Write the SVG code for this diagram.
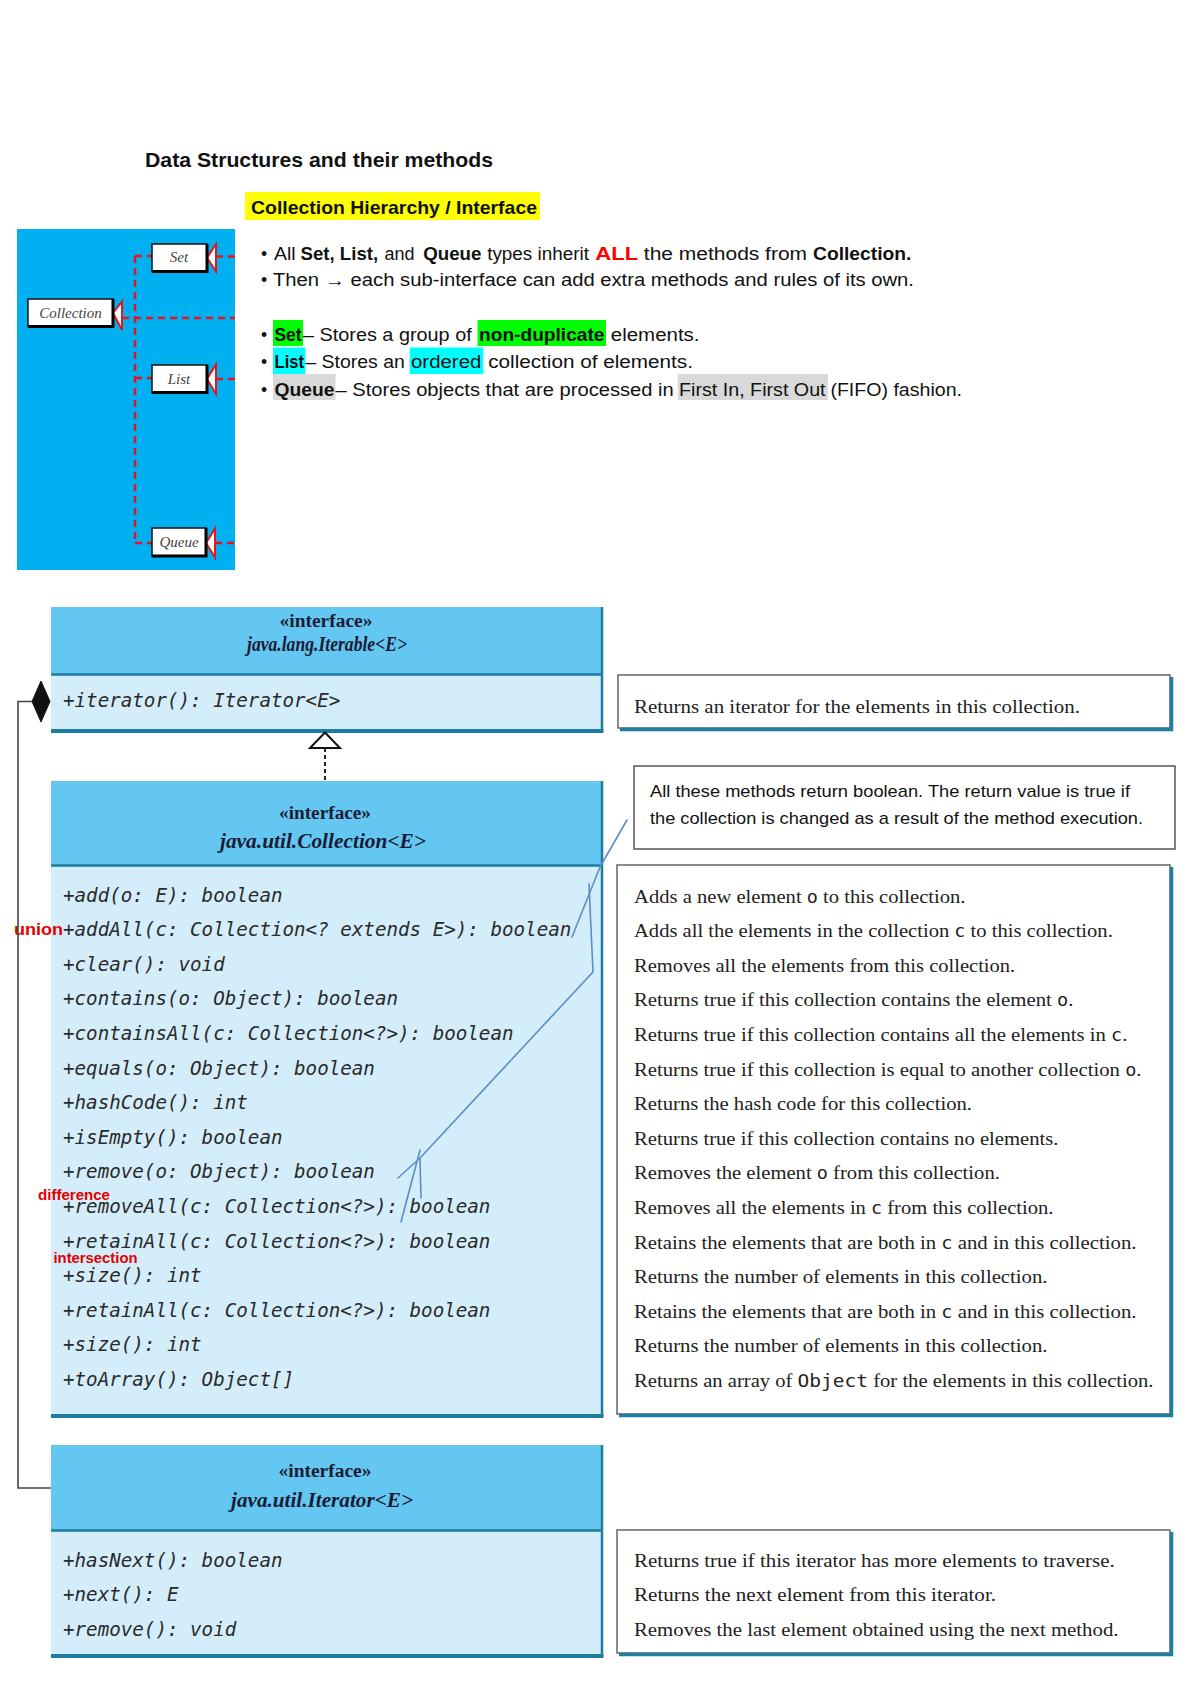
<svg xmlns="http://www.w3.org/2000/svg" width="1200" height="1696" viewBox="0 0 1200 1696">
<defs>
<style>
.cal{font-family:"Liberation Sans","Noto Sans",sans-serif;fill:#111;}
.b{font-weight:bold;}
.ser{font-family:"Liberation Serif","DejaVu Serif",serif;fill:#222;}
.mono{font-family:"DejaVu Sans Mono","Liberation Mono",monospace;font-style:italic;font-size:19.2px;fill:#2a2a2a;}
.cm{font-family:"DejaVu Sans Mono","Liberation Mono",monospace;font-style:normal;}
.hd1{font-family:"Liberation Serif",serif;font-weight:bold;font-size:18px;fill:#1b1b35;}
.hd2{font-family:"Liberation Serif",serif;font-weight:bold;font-style:italic;font-size:20px;fill:#1b1b35;}
.hdr{fill:#63C7F1;}
.body{fill:#D4EDFA;}
.edge{stroke:#1C7CA2;stroke-width:2.5;fill:none;}
.edgeb{stroke:#1C7CA2;stroke-width:4;fill:none;}
.desc{fill:#fff;stroke:#666;stroke-width:1.5;}
.dsh{stroke:#1E7FA3;stroke-width:3.5;fill:none;}
.rd{stroke:#E8141B;stroke-width:2.5;stroke-dasharray:7 5;fill:none;}
.tri{fill:#fff;stroke:#E8141B;stroke-width:2;}
.sbox{fill:#fff;stroke:#111;stroke-width:1.5;}
.sshadow{stroke:#000;stroke-width:3;fill:none;}
.stxt{font-family:"Liberation Serif",serif;font-style:italic;font-size:15px;fill:#444;text-anchor:middle;}
.red{font-family:"Liberation Sans",sans-serif;font-weight:bold;fill:#E00000;}
.ink{stroke:#5B8EC4;stroke-width:1.6;fill:none;stroke-linecap:round;stroke-linejoin:round;}
.bl{font-family:"Liberation Sans","Noto Sans",sans-serif;font-size:17.5px;fill:#111;}
.bl.redt{fill:#FF0000;}
</style>
</defs>
<rect x="0" y="0" width="1200" height="1696" fill="#fff"/>

<!-- Title -->
<g id="title">
<text class="cal b" x="145" y="167" font-size="21" textLength="348" lengthAdjust="spacingAndGlyphs">Data Structures and their methods</text>
<rect x="245" y="192" width="295" height="28" fill="#FFFF00"/>
<text class="cal b" x="251" y="213.5" font-size="19" textLength="286" lengthAdjust="spacingAndGlyphs">Collection Hierarchy / Interface</text>
</g>

<!-- Hierarchy mini diagram -->
<g id="hierarchy">
<rect x="17" y="229" width="218" height="341" fill="#00B0F0"/>
<g id="hier-connectors">
<line class="rd" x1="216" y1="256.5" x2="235" y2="256.5"/>
<line class="rd" x1="122" y1="318" x2="235" y2="318"/>
<line class="rd" x1="216" y1="379" x2="235" y2="379"/>
<line class="rd" x1="215" y1="543" x2="235" y2="543"/>
<line class="rd" x1="135" y1="256" x2="135" y2="543"/>
<line class="rd" x1="135" y1="256" x2="152" y2="256"/>
<line class="rd" x1="135" y1="378" x2="152" y2="378"/>
<line class="rd" x1="135" y1="543" x2="152" y2="543"/>
<polygon class="tri" points="207,257.7 216,244 216,271.5"/>
<polygon class="tri" points="113,313 122,301.5 122,330"/>
<polygon class="tri" points="207,379 216,364.5 216,394"/>
<polygon class="tri" points="206,543 215,528.5 215,557.5"/>
</g>
<g id="h-set">
<rect class="sbox" x="152" y="244" width="55" height="27.5"/>
<polyline class="sshadow" points="152,271.5 207,271.5 207,244"/>
<text class="stxt" x="179" y="262">Set</text>
</g>
<g id="h-collection">
<rect class="sbox" x="28" y="299" width="85" height="27.5"/>
<polyline class="sshadow" points="28,326.5 113,326.5 113,299"/>
<text class="stxt" x="70.5" y="317.5">Collection</text>
</g>
<g id="h-list">
<rect class="sbox" x="152" y="365" width="55" height="27.5"/>
<polyline class="sshadow" points="152,392.5 207,392.5 207,365"/>
<text class="stxt" x="179" y="383.5">List</text>
</g>
<g id="h-queue">
<rect class="sbox" x="152" y="528" width="54" height="28"/>
<polyline class="sshadow" points="152,556 206,556 206,528"/>
<text class="stxt" x="179" y="547">Queue</text>
</g>
</g>

<!-- Bullets -->
<g id="bullets">
<text class="bl" x="261" y="259.5">•</text>
<text class="bl" x="274" y="259.5" textLength="21.7" lengthAdjust="spacingAndGlyphs">All</text>
<text class="bl b" x="300.6" y="259.5" textLength="77.5" lengthAdjust="spacingAndGlyphs">Set, List,</text>
<text class="bl" x="384.5" y="259.5" textLength="30" lengthAdjust="spacingAndGlyphs">and</text>
<text class="bl b" x="423.2" y="259.5" textLength="58.2" lengthAdjust="spacingAndGlyphs">Queue</text>
<text class="bl" x="487.2" y="259.5" textLength="101.8" lengthAdjust="spacingAndGlyphs">types inherit</text>
<text class="bl b redt" x="595.3" y="259.5" textLength="43.1" lengthAdjust="spacingAndGlyphs">ALL</text>
<text class="bl" x="643.8" y="259.5" textLength="163.3" lengthAdjust="spacingAndGlyphs">the methods from</text>
<text class="bl b" x="813" y="259.5" textLength="98.4" lengthAdjust="spacingAndGlyphs">Collection.</text>

<text class="bl" x="261" y="285.5">•</text>
<text class="bl" x="273" y="285.5" textLength="641" lengthAdjust="spacingAndGlyphs">Then → each sub-interface can add extra methods and rules of its own.</text>

<rect x="273" y="320" width="30" height="26" fill="#00FF00"/>
<rect x="477.5" y="320" width="128.5" height="26" fill="#00FF00"/>
<text class="bl" x="261" y="341">•</text>
<text class="bl b" x="274.5" y="341" textLength="27" lengthAdjust="spacingAndGlyphs">Set</text>
<text class="bl" x="303" y="341" textLength="168.7" lengthAdjust="spacingAndGlyphs">– Stores a group of</text>
<text class="bl b" x="479" y="341" textLength="125.5" lengthAdjust="spacingAndGlyphs">non-duplicate</text>
<text class="bl" x="610.8" y="341" textLength="88.7" lengthAdjust="spacingAndGlyphs">elements.</text>

<rect x="273" y="347.5" width="32.4" height="26.5" fill="#00FFFF"/>
<rect x="409.7" y="347.5" width="73.6" height="26.5" fill="#00FFFF"/>
<text class="bl" x="261" y="368">•</text>
<text class="bl b" x="274.5" y="368" textLength="29.5" lengthAdjust="spacingAndGlyphs">List</text>
<text class="bl" x="305.4" y="368" textLength="99.4" lengthAdjust="spacingAndGlyphs">– Stores an</text>
<text class="bl" x="411" y="368" textLength="70.4" lengthAdjust="spacingAndGlyphs">ordered</text>
<text class="bl" x="488.2" y="368" textLength="204.8" lengthAdjust="spacingAndGlyphs">collection of elements.</text>

<rect x="273" y="374" width="62.5" height="26" fill="#D9D9D9"/>
<rect x="677.7" y="374" width="150.3" height="26" fill="#D9D9D9"/>
<text class="bl" x="261" y="396">•</text>
<text class="bl b" x="274.5" y="396" textLength="60" lengthAdjust="spacingAndGlyphs">Queue</text>
<text class="bl" x="335.5" y="396" textLength="338.3" lengthAdjust="spacingAndGlyphs">– Stores objects that are processed in</text>
<text class="bl" x="679" y="396" textLength="146.6" lengthAdjust="spacingAndGlyphs">First In, First Out</text>
<text class="bl" x="830.4" y="396" textLength="131.6" lengthAdjust="spacingAndGlyphs">(FIFO) fashion.</text>
</g>

<!-- Iterable -->
<g id="iterable">
<rect class="hdr" x="51" y="607" width="551" height="67"/>
<rect class="body" x="51" y="675" width="551" height="55"/>
<line class="edge" x1="51" y1="674.5" x2="602" y2="674.5"/>
<line class="edgeb" x1="51" y1="731" x2="603.5" y2="731"/>
<line class="edge" x1="602" y1="607" x2="602" y2="731"/>
<text class="hd1" x="326" y="627" text-anchor="middle" textLength="93" lengthAdjust="spacingAndGlyphs">«interface»</text>
<text class="hd2" x="327" y="651" text-anchor="middle" textLength="160" lengthAdjust="spacingAndGlyphs">java.lang.Iterable&lt;E&gt;</text>
<text class="mono" x="63" y="707">+iterator(): Iterator&lt;E&gt;</text>
</g>

<g id="iterable-desc">
<rect class="desc" x="618" y="675" width="552" height="53"/>
<polyline class="dsh" points="620,729.5 1171.5,729.5 1171.5,677"/>
<text class="ser" x="634" y="713" font-size="19" textLength="446" lengthAdjust="spacingAndGlyphs">Returns an iterator for the elements in this collection.</text>
</g>

<g id="note">
<rect x="634" y="766" width="541" height="83" fill="#fff" stroke="#555" stroke-width="1.5"/>
<text class="cal" x="650" y="797" font-size="17" textLength="480" lengthAdjust="spacingAndGlyphs" fill="#222">All these methods return boolean. The return value is true if</text>
<text class="cal" x="650" y="823.5" font-size="17" textLength="493" lengthAdjust="spacingAndGlyphs" fill="#222">the collection is changed as a result of the method execution.</text>
</g>

<!-- Collection -->
<g id="collection">
<rect class="hdr" x="51" y="781" width="551" height="84"/>
<rect class="body" x="51" y="866" width="551" height="549"/>
<line class="edge" x1="51" y1="865.5" x2="602" y2="865.5"/>
<line class="edgeb" x1="51" y1="1416" x2="603.5" y2="1416"/>
<line class="edge" x1="602" y1="781" x2="602" y2="1416"/>
<text class="hd1" x="325" y="819" text-anchor="middle" textLength="92" lengthAdjust="spacingAndGlyphs">«interface»</text>
<text class="hd2" x="323" y="848" text-anchor="middle" textLength="206" lengthAdjust="spacingAndGlyphs">java.util.Collection&lt;E&gt;</text>
<text class="mono" x="63" y="901.5">+add(o: E): boolean</text>
<text class="mono" x="63" y="936.1">+addAll(c: Collection&lt;? extends E&gt;): boolean</text>
<text class="mono" x="63" y="970.7">+clear(): void</text>
<text class="mono" x="63" y="1005.3">+contains(o: Object): boolean</text>
<text class="mono" x="63" y="1039.9">+containsAll(c: Collection&lt;?&gt;): boolean</text>
<text class="mono" x="63" y="1074.5">+equals(o: Object): boolean</text>
<text class="mono" x="63" y="1109.1">+hashCode(): int</text>
<text class="mono" x="63" y="1143.7">+isEmpty(): boolean</text>
<text class="mono" x="63" y="1178.3">+remove(o: Object): boolean</text>
<text class="mono" x="63" y="1212.9">+removeAll(c: Collection&lt;?&gt;): boolean</text>
<text class="mono" x="63" y="1247.5">+retainAll(c: Collection&lt;?&gt;): boolean</text>
<text class="mono" x="63" y="1282.1">+size(): int</text>
<text class="mono" x="63" y="1316.7">+retainAll(c: Collection&lt;?&gt;): boolean</text>
<text class="mono" x="63" y="1351.3">+size(): int</text>
<text class="mono" x="63" y="1385.9">+toArray(): Object[]</text>
</g>

<g id="annotations">
<text class="red" x="14" y="935" font-size="16" textLength="49" lengthAdjust="spacingAndGlyphs">union</text>
<text class="red" x="38" y="1200" font-size="14" textLength="72" lengthAdjust="spacingAndGlyphs">difference</text>
<text class="red" x="53.5" y="1263" font-size="14" textLength="84" lengthAdjust="spacingAndGlyphs">intersection</text>
</g>

<g id="collection-desc" font-size="19">
<rect class="desc" x="617" y="865" width="553" height="549"/>
<polyline class="dsh" points="619,1415.5 1171.5,1415.5 1171.5,867"/>
<text class="ser" x="634" y="902.5" textLength="331.5" lengthAdjust="spacingAndGlyphs">Adds a new element <tspan class="cm" font-size="17">o</tspan> to this collection.</text>
<text class="ser" x="634" y="937.1" textLength="478.8" lengthAdjust="spacingAndGlyphs">Adds all the elements in the collection <tspan class="cm" font-size="17">c</tspan> to this collection.</text>
<text class="ser" x="634" y="971.7" textLength="381.2" lengthAdjust="spacingAndGlyphs">Removes all the elements from this collection.</text>
<text class="ser" x="634" y="1006.3" textLength="439.4" lengthAdjust="spacingAndGlyphs">Returns true if this collection contains the element <tspan class="cm" font-size="17">o</tspan>.</text>
<text class="ser" x="634" y="1040.9" textLength="493.4" lengthAdjust="spacingAndGlyphs">Returns true if this collection contains all the elements in <tspan class="cm" font-size="17">c</tspan>.</text>
<text class="ser" x="634" y="1075.5" textLength="507.5" lengthAdjust="spacingAndGlyphs">Returns true if this collection is equal to another collection <tspan class="cm" font-size="17">o</tspan>.</text>
<text class="ser" x="634" y="1110.1" textLength="338" lengthAdjust="spacingAndGlyphs">Returns the hash code for this collection.</text>
<text class="ser" x="634" y="1144.7" textLength="424.5" lengthAdjust="spacingAndGlyphs">Returns true if this collection contains no elements.</text>
<text class="ser" x="634" y="1179.3" textLength="365.9" lengthAdjust="spacingAndGlyphs">Removes the element <tspan class="cm" font-size="17">o</tspan> from this collection.</text>
<text class="ser" x="634" y="1213.9" textLength="419.5" lengthAdjust="spacingAndGlyphs">Removes all the elements in <tspan class="cm" font-size="17">c</tspan> from this collection.</text>
<text class="ser" x="634" y="1248.5" textLength="502.5" lengthAdjust="spacingAndGlyphs">Retains the elements that are both in <tspan class="cm" font-size="17">c</tspan> and in this collection.</text>
<text class="ser" x="634" y="1283.1" textLength="413.5" lengthAdjust="spacingAndGlyphs">Returns the number of elements in this collection.</text>
<text class="ser" x="634" y="1317.7" textLength="502.5" lengthAdjust="spacingAndGlyphs">Retains the elements that are both in <tspan class="cm" font-size="17">c</tspan> and in this collection.</text>
<text class="ser" x="634" y="1352.3" textLength="413.5" lengthAdjust="spacingAndGlyphs">Returns the number of elements in this collection.</text>
<text class="ser" x="634" y="1386.9" textLength="519.5" lengthAdjust="spacingAndGlyphs">Returns an array of <tspan class="cm" font-size="18">Object</tspan> for the elements in this collection.</text>
</g>

<!-- Iterator -->
<g id="iterator">
<rect class="hdr" x="51" y="1445" width="551" height="85"/>
<rect class="body" x="51" y="1531" width="551" height="124"/>
<line class="edge" x1="51" y1="1530.5" x2="602" y2="1530.5"/>
<line class="edgeb" x1="51" y1="1656" x2="603.5" y2="1656"/>
<line class="edge" x1="602" y1="1445" x2="602" y2="1656"/>
<text class="hd1" x="325" y="1477" text-anchor="middle" textLength="93" lengthAdjust="spacingAndGlyphs">«interface»</text>
<text class="hd2" x="322" y="1507" text-anchor="middle" textLength="182" lengthAdjust="spacingAndGlyphs">java.util.Iterator&lt;E&gt;</text>
<text class="mono" x="63" y="1566.5">+hasNext(): boolean</text>
<text class="mono" x="63" y="1601">+next(): E</text>
<text class="mono" x="63" y="1635.5">+remove(): void</text>
</g>

<g id="iterator-desc" font-size="19">
<rect class="desc" x="617" y="1530" width="553" height="123"/>
<polyline class="dsh" points="619,1654.5 1171.5,1654.5 1171.5,1532"/>
<text class="ser" x="634" y="1566.5" textLength="480.7" lengthAdjust="spacingAndGlyphs">Returns true if this iterator has more elements to traverse.</text>
<text class="ser" x="634" y="1601" textLength="362" lengthAdjust="spacingAndGlyphs">Returns the next element from this iterator.</text>
<text class="ser" x="634" y="1635.5" textLength="484.5" lengthAdjust="spacingAndGlyphs">Removes the last element obtained using the next method.</text>
</g>

<!-- Connectors (drawn last so they stay visible) -->
<g id="connectors">
<polyline points="51,1488 18,1488 18,701.5 32,701.5" fill="none" stroke="#444" stroke-width="1.6"/>
<polygon points="32,701.5 41,681 50,701.5 41,722" fill="#111" stroke="#111" stroke-width="1"/>
<line x1="325" y1="748" x2="325" y2="781" stroke="#222" stroke-width="2" stroke-dasharray="4 3"/>
<polygon points="325,732.5 310,748 340,748" fill="#fff" stroke="#111" stroke-width="2"/>
<polyline class="ink" points="627,820 600,867 572,937"/>
<polyline class="ink" points="589,884 593,972 420,1158 398,1178"/>
<line class="ink" x1="420" y1="1158" x2="421" y2="1198"/>
<line class="ink" x1="420" y1="1150" x2="401" y2="1222"/>
</g>
</svg>
